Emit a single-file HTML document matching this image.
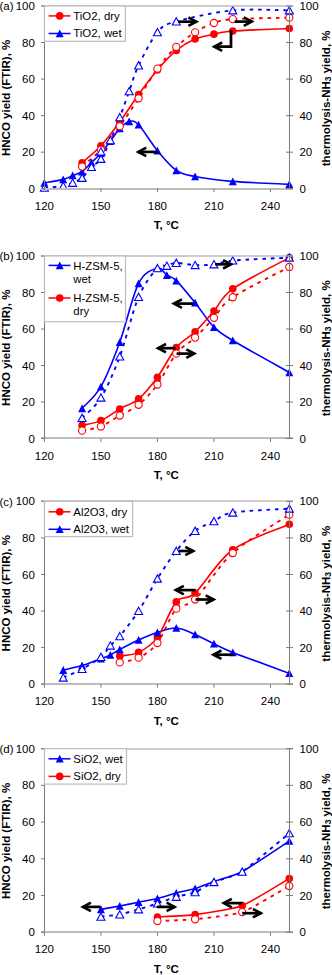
<!DOCTYPE html>
<html><head><meta charset="utf-8"><style>
html,body{margin:0;padding:0;background:#fff;}
body{width:332px;height:975px;overflow:hidden;}
svg{display:block;}
.t{font-family:"Liberation Sans",sans-serif;font-size:11.5px;fill:#000;}
.l{font-family:"Liberation Sans",sans-serif;font-size:11.4px;fill:#000;}
.b{font-family:"Liberation Sans",sans-serif;font-size:11.5px;font-weight:bold;fill:#000;}
</style></head><body>
<svg width="332" height="975" viewBox="0 0 332 975">
<rect width="332" height="975" fill="#fff"/>
<path d="M44.4,187.79 C47.54,187.48 58.53,186.78 63.24,185.96 C67.95,185.14 69.52,184.19 72.66,182.85 C75.8,181.51 78.94,180.57 82.08,177.92 C85.22,175.27 88.36,170.13 91.5,166.96 C94.64,163.79 97.78,163.37 100.92,158.92 C104.06,154.47 107.19,147.23 110.33,140.28 C113.47,133.34 116.61,125.42 119.75,117.26 C122.89,109.1 126.03,99.94 129.17,91.32 C132.31,82.7 133.88,75.4 138.59,65.56 C143.3,55.72 151.15,39.65 157.43,32.31 C163.71,24.97 163.71,25.18 176.27,21.53 C188.83,17.88 213.95,12.24 232.78,10.38 C251.62,8.53 279.88,10.38 289.3,10.38" fill="none" stroke="#0000ff" stroke-width="1.9" stroke-dasharray="3.6 4.8"/>
<path d="M82.08,166.59 C85.22,163.79 94.64,156.51 100.92,149.78 C107.19,143.06 113.47,134.8 119.75,126.22 C126.03,117.63 132.31,107.86 138.59,98.26 C144.87,88.67 151.15,77.22 157.43,68.67 C163.71,60.11 169.99,52.98 176.27,46.92 C182.55,40.87 188.83,36.3 195.11,32.31 C201.39,28.32 207.67,25.18 213.95,22.99 C220.23,20.8 220.23,20.04 232.78,19.15 C245.34,18.27 279.88,17.94 289.3,17.69" fill="none" stroke="#ff0000" stroke-width="1.9" stroke-dasharray="3.6 4.8"/>
<path d="M44.4,182.85 C47.54,182.28 58.53,180.6 63.24,179.38 C67.95,178.16 69.52,176.82 72.66,175.55 C75.8,174.27 78.94,173.9 82.08,171.71 C85.22,169.52 88.36,165.47 91.5,162.39 C94.64,159.32 97.78,156.79 100.92,153.26 C104.06,149.72 107.19,145.34 110.33,141.2 C113.47,137.06 116.61,131.7 119.75,128.41 C122.89,125.12 126.03,122.08 129.17,121.47 C132.31,120.86 133.88,119.88 138.59,124.75 C143.3,129.63 151.15,143.09 157.43,150.7 C163.71,158.31 169.99,166.14 176.27,170.43 C182.55,174.72 185.69,174.63 195.11,176.46 C204.53,178.29 217.09,180.08 232.78,181.39 C248.48,182.7 279.88,183.83 289.3,184.32" fill="none" stroke="#0000ff" stroke-width="1.6"/>
<path d="M82.08,162.76 C85.22,159.92 94.64,152.56 100.92,145.77 C107.19,138.98 113.47,130.57 119.75,122.01 C126.03,113.46 132.31,103.11 138.59,94.43 C144.87,85.75 151.15,77.28 157.43,69.94 C163.71,62.61 169.99,55.54 176.27,50.4 C182.55,45.25 188.83,41.78 195.11,39.07 C201.39,36.36 207.67,35.48 213.95,34.14 C220.23,32.8 220.23,31.97 232.78,31.03 C245.34,30.09 279.88,28.9 289.3,28.47" fill="none" stroke="#ff0000" stroke-width="1.6"/>
<circle cx="82.08" cy="162.76" r="3.8" fill="#ff0000"/>
<circle cx="100.92" cy="145.77" r="3.8" fill="#ff0000"/>
<circle cx="119.75" cy="122.01" r="3.8" fill="#ff0000"/>
<circle cx="138.59" cy="94.43" r="3.8" fill="#ff0000"/>
<circle cx="157.43" cy="69.94" r="3.8" fill="#ff0000"/>
<circle cx="176.27" cy="50.4" r="3.8" fill="#ff0000"/>
<circle cx="195.11" cy="39.07" r="3.8" fill="#ff0000"/>
<circle cx="213.95" cy="34.14" r="3.8" fill="#ff0000"/>
<circle cx="232.78" cy="31.03" r="3.8" fill="#ff0000"/>
<circle cx="289.3" cy="28.47" r="3.8" fill="#ff0000"/>
<polygon points="44.4,178.85 48.4,186.65 40.4,186.65" fill="#0000ff"/>
<polygon points="63.24,175.38 67.24,183.18 59.24,183.18" fill="#0000ff"/>
<polygon points="72.66,171.55 76.66,179.35 68.66,179.35" fill="#0000ff"/>
<polygon points="82.08,167.71 86.08,175.51 78.08,175.51" fill="#0000ff"/>
<polygon points="91.5,158.39 95.5,166.19 87.5,166.19" fill="#0000ff"/>
<polygon points="100.92,149.26 104.92,157.06 96.92,157.06" fill="#0000ff"/>
<polygon points="110.33,137.2 114.33,145 106.33,145" fill="#0000ff"/>
<polygon points="119.75,124.41 123.75,132.21 115.75,132.21" fill="#0000ff"/>
<polygon points="129.17,117.47 133.17,125.27 125.17,125.27" fill="#0000ff"/>
<polygon points="138.59,120.75 142.59,128.56 134.59,128.56" fill="#0000ff"/>
<polygon points="157.43,146.7 161.43,154.5 153.43,154.5" fill="#0000ff"/>
<polygon points="176.27,166.43 180.27,174.23 172.27,174.23" fill="#0000ff"/>
<polygon points="195.11,172.46 199.11,180.26 191.11,180.26" fill="#0000ff"/>
<polygon points="232.78,177.39 236.78,185.19 228.78,185.19" fill="#0000ff"/>
<polygon points="289.3,180.32 293.3,188.12 285.3,188.12" fill="#0000ff"/>
<circle cx="82.08" cy="166.59" r="3.6" fill="#fff" stroke="#ff0000" stroke-width="1.1"/>
<circle cx="100.92" cy="149.78" r="3.6" fill="#fff" stroke="#ff0000" stroke-width="1.1"/>
<circle cx="119.75" cy="126.22" r="3.6" fill="#fff" stroke="#ff0000" stroke-width="1.1"/>
<circle cx="138.59" cy="98.26" r="3.6" fill="#fff" stroke="#ff0000" stroke-width="1.1"/>
<circle cx="157.43" cy="68.67" r="3.6" fill="#fff" stroke="#ff0000" stroke-width="1.1"/>
<circle cx="176.27" cy="46.92" r="3.6" fill="#fff" stroke="#ff0000" stroke-width="1.1"/>
<circle cx="195.11" cy="32.31" r="3.6" fill="#fff" stroke="#ff0000" stroke-width="1.1"/>
<circle cx="213.95" cy="22.99" r="3.6" fill="#fff" stroke="#ff0000" stroke-width="1.1"/>
<circle cx="232.78" cy="19.15" r="3.6" fill="#fff" stroke="#ff0000" stroke-width="1.1"/>
<circle cx="289.3" cy="17.69" r="3.6" fill="#fff" stroke="#ff0000" stroke-width="1.1"/>
<polygon points="44.4,183.99 48.4,191.29 40.4,191.29" fill="#fff" stroke="#0000ff" stroke-width="1.1"/>
<polygon points="63.24,182.16 67.24,189.46 59.24,189.46" fill="#fff" stroke="#0000ff" stroke-width="1.1"/>
<polygon points="72.66,179.05 76.66,186.35 68.66,186.35" fill="#fff" stroke="#0000ff" stroke-width="1.1"/>
<polygon points="82.08,174.12 86.08,181.42 78.08,181.42" fill="#fff" stroke="#0000ff" stroke-width="1.1"/>
<polygon points="91.5,163.16 95.5,170.46 87.5,170.46" fill="#fff" stroke="#0000ff" stroke-width="1.1"/>
<polygon points="100.92,155.12 104.92,162.42 96.92,162.42" fill="#fff" stroke="#0000ff" stroke-width="1.1"/>
<polygon points="110.33,136.48 114.33,143.78 106.33,143.78" fill="#fff" stroke="#0000ff" stroke-width="1.1"/>
<polygon points="119.75,113.46 123.75,120.76 115.75,120.76" fill="#fff" stroke="#0000ff" stroke-width="1.1"/>
<polygon points="129.17,87.52 133.17,94.82 125.17,94.82" fill="#fff" stroke="#0000ff" stroke-width="1.1"/>
<polygon points="138.59,61.76 142.59,69.06 134.59,69.06" fill="#fff" stroke="#0000ff" stroke-width="1.1"/>
<polygon points="157.43,28.51 161.43,35.81 153.43,35.81" fill="#fff" stroke="#0000ff" stroke-width="1.1"/>
<polygon points="176.27,17.73 180.27,25.03 172.27,25.03" fill="#fff" stroke="#0000ff" stroke-width="1.1"/>
<polygon points="232.78,6.58 236.78,13.88 228.78,13.88" fill="#fff" stroke="#0000ff" stroke-width="1.1"/>
<polygon points="289.3,6.58 293.3,13.88 285.3,13.88" fill="#fff" stroke="#0000ff" stroke-width="1.1"/>
<polygon points="100.92,147.81 104.92,155.11 96.92,155.11" fill="#fff" stroke="#0000ff" stroke-width="1.1"/>
<line x1="41" y1="6" x2="293" y2="6" stroke="#bcbcbc" stroke-width="1.6"/>
<line x1="41" y1="189" x2="293" y2="189" stroke="#bcbcbc" stroke-width="1.8"/>
<line x1="44.5" y1="6" x2="44.5" y2="189" stroke="#7a7a7a" stroke-width="1"/>
<line x1="289.5" y1="6" x2="289.5" y2="189" stroke="#7a7a7a" stroke-width="1"/>
<line x1="41" y1="188.7" x2="44.5" y2="188.7" stroke="#7a7a7a" stroke-width="1"/>
<line x1="286" y1="188.7" x2="293" y2="188.7" stroke="#7a7a7a" stroke-width="1"/>
<text x="34.9" y="192.8" text-anchor="end" class="t">0</text>
<text x="299.4" y="192.8" class="t">0</text>
<line x1="41" y1="152.16" x2="44.5" y2="152.16" stroke="#7a7a7a" stroke-width="1"/>
<line x1="286" y1="152.16" x2="293" y2="152.16" stroke="#7a7a7a" stroke-width="1"/>
<text x="34.9" y="156.26" text-anchor="end" class="t">20</text>
<text x="299.4" y="156.26" class="t">20</text>
<line x1="41" y1="115.62" x2="44.5" y2="115.62" stroke="#7a7a7a" stroke-width="1"/>
<line x1="286" y1="115.62" x2="293" y2="115.62" stroke="#7a7a7a" stroke-width="1"/>
<text x="34.9" y="119.72" text-anchor="end" class="t">40</text>
<text x="299.4" y="119.72" class="t">40</text>
<line x1="41" y1="79.08" x2="44.5" y2="79.08" stroke="#7a7a7a" stroke-width="1"/>
<line x1="286" y1="79.08" x2="293" y2="79.08" stroke="#7a7a7a" stroke-width="1"/>
<text x="34.9" y="83.18" text-anchor="end" class="t">60</text>
<text x="299.4" y="83.18" class="t">60</text>
<line x1="41" y1="42.54" x2="44.5" y2="42.54" stroke="#7a7a7a" stroke-width="1"/>
<line x1="286" y1="42.54" x2="293" y2="42.54" stroke="#7a7a7a" stroke-width="1"/>
<text x="34.9" y="46.64" text-anchor="end" class="t">80</text>
<text x="299.4" y="46.64" class="t">80</text>
<line x1="41" y1="6" x2="44.5" y2="6" stroke="#7a7a7a" stroke-width="1"/>
<line x1="286" y1="6" x2="293" y2="6" stroke="#7a7a7a" stroke-width="1"/>
<text x="34.9" y="10.1" text-anchor="end" class="t">100</text>
<text x="299.4" y="10.1" class="t">100</text>
<line x1="44.4" y1="188.7" x2="44.4" y2="192.2" stroke="#7a7a7a" stroke-width="1"/>
<text x="44.4" y="209.7" text-anchor="middle" class="t">120</text>
<line x1="100.92" y1="188.7" x2="100.92" y2="192.2" stroke="#7a7a7a" stroke-width="1"/>
<text x="100.92" y="209.7" text-anchor="middle" class="t">150</text>
<line x1="157.43" y1="188.7" x2="157.43" y2="192.2" stroke="#7a7a7a" stroke-width="1"/>
<text x="157.43" y="209.7" text-anchor="middle" class="t">180</text>
<line x1="213.95" y1="188.7" x2="213.95" y2="192.2" stroke="#7a7a7a" stroke-width="1"/>
<text x="213.95" y="209.7" text-anchor="middle" class="t">210</text>
<line x1="270.46" y1="188.7" x2="270.46" y2="192.2" stroke="#7a7a7a" stroke-width="1"/>
<text x="270.46" y="209.7" text-anchor="middle" class="t">240</text>
<text x="166.3" y="229.2" text-anchor="middle" class="b">T, °C</text>
<text transform="translate(10.3,97.85) rotate(-90)" text-anchor="middle" class="b">HNCO yield (FTIR), %</text>
<text transform="translate(329.6,98.35) rotate(-90)" text-anchor="middle" class="b">thermolysis-NH<tspan font-size="8.5" dy="1">3</tspan><tspan dy="-1"> yield, %</tspan></text>
<text x="-0.5" y="10.2" class="t">(a)</text>
<path d="M158.7,151.9 L138.3,151.9" fill="none" stroke="#000" stroke-width="2.7"/><path d="M146.3,147.7 L138.3,151.9 L146.3,156.1" fill="none" stroke="#000" stroke-width="2.6" stroke-linejoin="miter" stroke-miterlimit="10"/>
<path d="M178.3,21.7 L196.4,21.7" fill="none" stroke="#000" stroke-width="2.7"/><path d="M188.4,25.9 L196.4,21.7 L188.4,17.5" fill="none" stroke="#000" stroke-width="2.6" stroke-linejoin="miter" stroke-miterlimit="10"/>
<path d="M234.6,21.6 L251.8,21.6" fill="none" stroke="#000" stroke-width="2.7"/><path d="M243.8,25.8 L251.8,21.6 L243.8,17.4" fill="none" stroke="#000" stroke-width="2.6" stroke-linejoin="miter" stroke-miterlimit="10"/>
<path d="M231,30 L231,46.7 L214.2,46.7" fill="none" stroke="#000" stroke-width="2.7"/><path d="M222.2,42.5 L214.2,46.7 L222.2,50.9" fill="none" stroke="#000" stroke-width="2.6" stroke-linejoin="miter" stroke-miterlimit="10"/>
<rect x="44.5" y="6" width="80.9" height="35.3" fill="#fff" stroke="#bcbcbc" stroke-width="1.2"/>
<line x1="48.6" y1="15.9" x2="70.5" y2="15.9" stroke="#ff0000" stroke-width="1.5"/>
<circle cx="59.7" cy="15.9" r="3.8" fill="#ff0000"/>
<text x="73.3" y="19.6" class="l">TiO2, dry</text>
<line x1="48.6" y1="33.5" x2="70.5" y2="33.5" stroke="#0000ff" stroke-width="1.5"/>
<polygon points="59.7,29.5 63.7,37.3 55.7,37.3" fill="#0000ff"/>
<text x="73.3" y="36.8" class="l">TiO2, wet</text>
<path d="M82.08,418.06 C85.22,414.65 94.64,407.87 100.92,397.62 C107.19,387.37 113.47,373.32 119.75,356.56 C126.03,339.8 132.31,311.78 138.59,297.06 C144.87,282.34 152.72,273.43 157.43,268.23 C162.14,263.03 163.71,266.74 166.85,265.86 C169.99,264.97 171.56,263.06 176.27,262.94 C180.98,262.81 188.83,264.88 195.11,265.12 C201.39,265.37 207.67,265.16 213.95,264.39 C220.23,263.63 220.23,261.69 232.78,260.56 C245.34,259.44 279.88,258.13 289.3,257.64" fill="none" stroke="#0000ff" stroke-width="1.9" stroke-dasharray="3.6 4.8"/>
<path d="M82.08,430.65 C85.22,429.95 94.64,428.98 100.92,426.45 C107.19,423.93 113.47,419.12 119.75,415.5 C126.03,411.89 132.31,409.91 138.59,404.74 C144.87,399.57 151.15,393 157.43,384.48 C163.71,375.96 169.99,361.45 176.27,353.64 C182.55,345.82 188.83,343.54 195.11,337.58 C201.39,331.62 207.67,324.59 213.95,317.87 C220.23,311.15 220.23,305.73 232.78,297.25 C245.34,288.76 279.88,272 289.3,266.95" fill="none" stroke="#ff0000" stroke-width="1.9" stroke-dasharray="3.6 4.8"/>
<path d="M82.08,408.39 C85.22,404.77 94.64,397.68 100.92,386.67 C107.19,375.66 113.47,359.54 119.75,342.32 C126.03,325.11 132.31,295.72 138.59,283.38 C144.87,271.03 152.72,269.6 157.43,268.23 C162.14,266.86 163.71,273.09 166.85,275.16 C169.99,277.23 171.56,276.04 176.27,280.64 C180.98,285.23 188.83,294.96 195.11,302.72 C201.39,310.48 207.67,320.88 213.95,327.18 C220.23,333.47 220.23,332.95 232.78,340.5 C245.34,348.04 279.88,367.11 289.3,372.44" fill="none" stroke="#0000ff" stroke-width="1.6"/>
<path d="M82.08,425.36 C85.22,424.57 94.64,423.35 100.92,420.62 C107.19,417.88 113.47,412.55 119.75,408.94 C126.03,405.32 132.31,404.19 138.59,398.9 C144.87,393.6 151.15,385.73 157.43,377.18 C163.71,368.63 169.99,355.16 176.27,347.62 C182.55,340.07 188.83,338 195.11,331.92 C201.39,325.84 207.67,318.29 213.95,311.12 C220.23,303.94 220.23,297.76 232.78,288.85 C245.34,279.94 279.88,262.84 289.3,257.64" fill="none" stroke="#ff0000" stroke-width="1.6"/>
<circle cx="82.08" cy="425.36" r="3.8" fill="#ff0000"/>
<circle cx="100.92" cy="420.62" r="3.8" fill="#ff0000"/>
<circle cx="119.75" cy="408.94" r="3.8" fill="#ff0000"/>
<circle cx="138.59" cy="398.9" r="3.8" fill="#ff0000"/>
<circle cx="157.43" cy="377.18" r="3.8" fill="#ff0000"/>
<circle cx="176.27" cy="347.62" r="3.8" fill="#ff0000"/>
<circle cx="195.11" cy="331.92" r="3.8" fill="#ff0000"/>
<circle cx="213.95" cy="311.12" r="3.8" fill="#ff0000"/>
<circle cx="232.78" cy="288.85" r="3.8" fill="#ff0000"/>
<circle cx="289.3" cy="257.64" r="3.8" fill="#ff0000"/>
<polygon points="82.08,404.39 86.08,412.19 78.08,412.19" fill="#0000ff"/>
<polygon points="100.92,382.67 104.92,390.47 96.92,390.47" fill="#0000ff"/>
<polygon points="119.75,338.32 123.75,346.12 115.75,346.12" fill="#0000ff"/>
<polygon points="138.59,279.38 142.59,287.18 134.59,287.18" fill="#0000ff"/>
<polygon points="157.43,264.23 161.43,272.03 153.43,272.03" fill="#0000ff"/>
<polygon points="166.85,271.16 170.85,278.96 162.85,278.96" fill="#0000ff"/>
<polygon points="176.27,276.64 180.27,284.44 172.27,284.44" fill="#0000ff"/>
<polygon points="195.11,298.72 199.11,306.52 191.11,306.52" fill="#0000ff"/>
<polygon points="213.95,323.18 217.95,330.98 209.95,330.98" fill="#0000ff"/>
<polygon points="232.78,336.5 236.78,344.3 228.78,344.3" fill="#0000ff"/>
<polygon points="289.3,368.44 293.3,376.24 285.3,376.24" fill="#0000ff"/>
<circle cx="82.08" cy="430.65" r="3.6" fill="#fff" stroke="#ff0000" stroke-width="1.1"/>
<circle cx="100.92" cy="426.45" r="3.6" fill="#fff" stroke="#ff0000" stroke-width="1.1"/>
<circle cx="119.75" cy="415.5" r="3.6" fill="#fff" stroke="#ff0000" stroke-width="1.1"/>
<circle cx="138.59" cy="404.74" r="3.6" fill="#fff" stroke="#ff0000" stroke-width="1.1"/>
<circle cx="157.43" cy="384.48" r="3.6" fill="#fff" stroke="#ff0000" stroke-width="1.1"/>
<circle cx="176.27" cy="353.64" r="3.6" fill="#fff" stroke="#ff0000" stroke-width="1.1"/>
<circle cx="195.11" cy="337.58" r="3.6" fill="#fff" stroke="#ff0000" stroke-width="1.1"/>
<circle cx="213.95" cy="317.87" r="3.6" fill="#fff" stroke="#ff0000" stroke-width="1.1"/>
<circle cx="232.78" cy="297.25" r="3.6" fill="#fff" stroke="#ff0000" stroke-width="1.1"/>
<circle cx="289.3" cy="266.95" r="3.6" fill="#fff" stroke="#ff0000" stroke-width="1.1"/>
<polygon points="82.08,414.26 86.08,421.56 78.08,421.56" fill="#fff" stroke="#0000ff" stroke-width="1.1"/>
<polygon points="100.92,393.82 104.92,401.12 96.92,401.12" fill="#fff" stroke="#0000ff" stroke-width="1.1"/>
<polygon points="119.75,352.76 123.75,360.06 115.75,360.06" fill="#fff" stroke="#0000ff" stroke-width="1.1"/>
<polygon points="138.59,293.26 142.59,300.56 134.59,300.56" fill="#fff" stroke="#0000ff" stroke-width="1.1"/>
<polygon points="157.43,264.43 161.43,271.73 153.43,271.73" fill="#fff" stroke="#0000ff" stroke-width="1.1"/>
<polygon points="166.85,262.06 170.85,269.36 162.85,269.36" fill="#fff" stroke="#0000ff" stroke-width="1.1"/>
<polygon points="176.27,259.13 180.27,266.44 172.27,266.44" fill="#fff" stroke="#0000ff" stroke-width="1.1"/>
<polygon points="195.11,261.32 199.11,268.62 191.11,268.62" fill="#fff" stroke="#0000ff" stroke-width="1.1"/>
<polygon points="213.95,260.59 217.95,267.89 209.95,267.89" fill="#fff" stroke="#0000ff" stroke-width="1.1"/>
<polygon points="232.78,256.76 236.78,264.06 228.78,264.06" fill="#fff" stroke="#0000ff" stroke-width="1.1"/>
<polygon points="289.3,253.84 293.3,261.14 285.3,261.14" fill="#fff" stroke="#0000ff" stroke-width="1.1"/>
<line x1="41" y1="256" x2="293" y2="256" stroke="#bcbcbc" stroke-width="1.6"/>
<line x1="41" y1="438" x2="293" y2="438" stroke="#bcbcbc" stroke-width="1.8"/>
<line x1="44.5" y1="256" x2="44.5" y2="438" stroke="#7a7a7a" stroke-width="1"/>
<line x1="289.5" y1="256" x2="289.5" y2="438" stroke="#7a7a7a" stroke-width="1"/>
<line x1="41" y1="438.5" x2="44.5" y2="438.5" stroke="#7a7a7a" stroke-width="1"/>
<line x1="286" y1="438.5" x2="293" y2="438.5" stroke="#7a7a7a" stroke-width="1"/>
<text x="34.9" y="442.6" text-anchor="end" class="t">0</text>
<text x="299.4" y="442.6" class="t">0</text>
<line x1="41" y1="402" x2="44.5" y2="402" stroke="#7a7a7a" stroke-width="1"/>
<line x1="286" y1="402" x2="293" y2="402" stroke="#7a7a7a" stroke-width="1"/>
<text x="34.9" y="406.1" text-anchor="end" class="t">20</text>
<text x="299.4" y="406.1" class="t">20</text>
<line x1="41" y1="365.5" x2="44.5" y2="365.5" stroke="#7a7a7a" stroke-width="1"/>
<line x1="286" y1="365.5" x2="293" y2="365.5" stroke="#7a7a7a" stroke-width="1"/>
<text x="34.9" y="369.6" text-anchor="end" class="t">40</text>
<text x="299.4" y="369.6" class="t">40</text>
<line x1="41" y1="329" x2="44.5" y2="329" stroke="#7a7a7a" stroke-width="1"/>
<line x1="286" y1="329" x2="293" y2="329" stroke="#7a7a7a" stroke-width="1"/>
<text x="34.9" y="333.1" text-anchor="end" class="t">60</text>
<text x="299.4" y="333.1" class="t">60</text>
<line x1="41" y1="292.5" x2="44.5" y2="292.5" stroke="#7a7a7a" stroke-width="1"/>
<line x1="286" y1="292.5" x2="293" y2="292.5" stroke="#7a7a7a" stroke-width="1"/>
<text x="34.9" y="296.6" text-anchor="end" class="t">80</text>
<text x="299.4" y="296.6" class="t">80</text>
<line x1="41" y1="256" x2="44.5" y2="256" stroke="#7a7a7a" stroke-width="1"/>
<line x1="286" y1="256" x2="293" y2="256" stroke="#7a7a7a" stroke-width="1"/>
<text x="34.9" y="260.1" text-anchor="end" class="t">100</text>
<text x="299.4" y="260.1" class="t">100</text>
<line x1="44.4" y1="438.5" x2="44.4" y2="442" stroke="#7a7a7a" stroke-width="1"/>
<text x="44.4" y="459.5" text-anchor="middle" class="t">120</text>
<line x1="100.92" y1="438.5" x2="100.92" y2="442" stroke="#7a7a7a" stroke-width="1"/>
<text x="100.92" y="459.5" text-anchor="middle" class="t">150</text>
<line x1="157.43" y1="438.5" x2="157.43" y2="442" stroke="#7a7a7a" stroke-width="1"/>
<text x="157.43" y="459.5" text-anchor="middle" class="t">180</text>
<line x1="213.95" y1="438.5" x2="213.95" y2="442" stroke="#7a7a7a" stroke-width="1"/>
<text x="213.95" y="459.5" text-anchor="middle" class="t">210</text>
<line x1="270.46" y1="438.5" x2="270.46" y2="442" stroke="#7a7a7a" stroke-width="1"/>
<text x="270.46" y="459.5" text-anchor="middle" class="t">240</text>
<text x="166.3" y="479" text-anchor="middle" class="b">T, °C</text>
<text transform="translate(10.3,347.75) rotate(-90)" text-anchor="middle" class="b">HNCO yield (FTIR), %</text>
<text transform="translate(329.6,348.25) rotate(-90)" text-anchor="middle" class="b">thermolysis-NH<tspan font-size="8.5" dy="1">3</tspan><tspan dy="-1"> yield, %</tspan></text>
<text x="-0.5" y="260.2" class="t">(b)</text>
<path d="M193.8,303.6 L173.9,303.6" fill="none" stroke="#000" stroke-width="2.7"/><path d="M181.9,299.4 L173.9,303.6 L181.9,307.8" fill="none" stroke="#000" stroke-width="2.6" stroke-linejoin="miter" stroke-miterlimit="10"/>
<path d="M175.7,348.2 L158,348.2" fill="none" stroke="#000" stroke-width="2.7"/><path d="M166,344 L158,348.2 L166,352.4" fill="none" stroke="#000" stroke-width="2.6" stroke-linejoin="miter" stroke-miterlimit="10"/>
<path d="M176.6,353.6 L194.3,353.6" fill="none" stroke="#000" stroke-width="2.7"/><path d="M186.3,357.8 L194.3,353.6 L186.3,349.4" fill="none" stroke="#000" stroke-width="2.6" stroke-linejoin="miter" stroke-miterlimit="10"/>
<path d="M215.2,264.3 L231.1,264.3" fill="none" stroke="#000" stroke-width="2.7"/><path d="M223.1,268.5 L231.1,264.3 L223.1,260.1" fill="none" stroke="#000" stroke-width="2.6" stroke-linejoin="miter" stroke-miterlimit="10"/>
<rect x="44.5" y="256" width="81" height="65.8" fill="#fff" stroke="#bcbcbc" stroke-width="1.2"/>
<line x1="48.6" y1="265.4" x2="70.5" y2="265.4" stroke="#0000ff" stroke-width="1.5"/>
<polygon points="59.7,261.4 63.7,269.2 55.7,269.2" fill="#0000ff"/>
<text x="73.3" y="269.8" class="l">H-ZSM-5,</text>
<text x="73.3" y="283.1" class="l">wet</text>
<line x1="48.6" y1="298" x2="70.5" y2="298" stroke="#ff0000" stroke-width="1.5"/>
<circle cx="59.7" cy="298" r="3.8" fill="#ff0000"/>
<text x="73.3" y="302" class="l">H-ZSM-5,</text>
<text x="73.3" y="315.2" class="l">dry</text>
<path d="M63.24,677.62 C66.38,676.18 75.8,672.46 82.08,669.02 C88.36,665.57 96.21,660.85 100.92,656.95 C105.63,653.05 107.19,649.05 110.33,645.61 C113.47,642.16 115.04,642.04 119.75,636.28 C124.46,630.52 132.31,620.64 138.59,611.04 C144.87,601.44 151.15,588.67 157.43,578.67 C163.71,568.67 169.99,559 176.27,551.05 C182.55,543.09 188.83,535.9 195.11,530.93 C201.39,525.96 207.67,524.28 213.95,521.24 C220.23,518.19 220.23,514.74 232.78,512.64 C245.34,510.54 279.88,509.29 289.3,508.62" fill="none" stroke="#0000ff" stroke-width="1.9" stroke-dasharray="3.6 4.8"/>
<path d="M119.75,662.43 C122.89,661.64 132.31,660.91 138.59,657.68 C144.87,654.45 151.15,651.22 157.43,643.05 C163.71,634.88 169.99,615.92 176.27,608.66 C182.55,601.41 185.69,608.78 195.11,599.52 C204.53,590.25 217.09,567.2 232.78,553.06 C248.48,538.92 279.88,521.05 289.3,514.65" fill="none" stroke="#ff0000" stroke-width="1.9" stroke-dasharray="3.6 4.8"/>
<path d="M63.24,670.12 C66.38,669.35 75.8,667.43 82.08,665.54 C88.36,663.65 96.21,660.54 100.92,658.78 C105.63,657.01 107.19,656.49 110.33,654.94 C113.47,653.38 115.04,651.95 119.75,649.45 C124.46,646.95 132.31,642.77 138.59,639.94 C144.87,637.1 151.15,634.42 157.43,632.44 C163.71,630.46 169.99,627.71 176.27,628.05 C182.55,628.39 188.83,631.83 195.11,634.45 C201.39,637.07 207.67,640.79 213.95,643.78 C220.23,646.77 220.23,647.47 232.78,652.38 C245.34,657.28 279.88,669.75 289.3,673.23" fill="none" stroke="#0000ff" stroke-width="1.6"/>
<path d="M119.75,656.03 C122.89,655.42 132.31,655.48 138.59,652.38 C144.87,649.27 151.15,645.79 157.43,637.38 C163.71,628.96 169.99,609.3 176.27,601.89 C182.55,594.49 185.69,601.62 195.11,592.93 C204.53,584.25 217.09,561.2 232.78,549.77 C248.48,538.34 279.88,528.58 289.3,524.35" fill="none" stroke="#ff0000" stroke-width="1.6"/>
<circle cx="119.75" cy="656.03" r="3.8" fill="#ff0000"/>
<circle cx="138.59" cy="652.38" r="3.8" fill="#ff0000"/>
<circle cx="157.43" cy="637.38" r="3.8" fill="#ff0000"/>
<circle cx="176.27" cy="601.89" r="3.8" fill="#ff0000"/>
<circle cx="195.11" cy="592.93" r="3.8" fill="#ff0000"/>
<circle cx="232.78" cy="549.77" r="3.8" fill="#ff0000"/>
<circle cx="289.3" cy="524.35" r="3.8" fill="#ff0000"/>
<polygon points="63.24,666.12 67.24,673.92 59.24,673.92" fill="#0000ff"/>
<polygon points="82.08,661.54 86.08,669.34 78.08,669.34" fill="#0000ff"/>
<polygon points="100.92,654.78 104.92,662.58 96.92,662.58" fill="#0000ff"/>
<polygon points="110.33,650.94 114.33,658.74 106.33,658.74" fill="#0000ff"/>
<polygon points="119.75,645.45 123.75,653.25 115.75,653.25" fill="#0000ff"/>
<polygon points="138.59,635.94 142.59,643.74 134.59,643.74" fill="#0000ff"/>
<polygon points="157.43,628.44 161.43,636.24 153.43,636.24" fill="#0000ff"/>
<polygon points="176.27,624.05 180.27,631.85 172.27,631.85" fill="#0000ff"/>
<polygon points="195.11,630.45 199.11,638.25 191.11,638.25" fill="#0000ff"/>
<polygon points="213.95,639.78 217.95,647.58 209.95,647.58" fill="#0000ff"/>
<polygon points="232.78,648.38 236.78,656.18 228.78,656.18" fill="#0000ff"/>
<polygon points="289.3,669.23 293.3,677.03 285.3,677.03" fill="#0000ff"/>
<circle cx="119.75" cy="662.43" r="3.6" fill="#fff" stroke="#ff0000" stroke-width="1.1"/>
<circle cx="138.59" cy="657.68" r="3.6" fill="#fff" stroke="#ff0000" stroke-width="1.1"/>
<circle cx="157.43" cy="643.05" r="3.6" fill="#fff" stroke="#ff0000" stroke-width="1.1"/>
<circle cx="176.27" cy="608.66" r="3.6" fill="#fff" stroke="#ff0000" stroke-width="1.1"/>
<circle cx="195.11" cy="599.52" r="3.6" fill="#fff" stroke="#ff0000" stroke-width="1.1"/>
<circle cx="232.78" cy="553.06" r="3.6" fill="#fff" stroke="#ff0000" stroke-width="1.1"/>
<circle cx="289.3" cy="514.65" r="3.6" fill="#fff" stroke="#ff0000" stroke-width="1.1"/>
<polygon points="63.24,673.82 67.24,681.12 59.24,681.12" fill="#fff" stroke="#0000ff" stroke-width="1.1"/>
<polygon points="82.08,665.22 86.08,672.52 78.08,672.52" fill="#fff" stroke="#0000ff" stroke-width="1.1"/>
<polygon points="100.92,653.15 104.92,660.45 96.92,660.45" fill="#fff" stroke="#0000ff" stroke-width="1.1"/>
<polygon points="110.33,641.81 114.33,649.11 106.33,649.11" fill="#fff" stroke="#0000ff" stroke-width="1.1"/>
<polygon points="119.75,632.48 123.75,639.78 115.75,639.78" fill="#fff" stroke="#0000ff" stroke-width="1.1"/>
<polygon points="138.59,607.24 142.59,614.54 134.59,614.54" fill="#fff" stroke="#0000ff" stroke-width="1.1"/>
<polygon points="157.43,574.87 161.43,582.17 153.43,582.17" fill="#fff" stroke="#0000ff" stroke-width="1.1"/>
<polygon points="176.27,547.25 180.27,554.55 172.27,554.55" fill="#fff" stroke="#0000ff" stroke-width="1.1"/>
<polygon points="195.11,527.13 199.11,534.43 191.11,534.43" fill="#fff" stroke="#0000ff" stroke-width="1.1"/>
<polygon points="213.95,517.44 217.95,524.74 209.95,524.74" fill="#fff" stroke="#0000ff" stroke-width="1.1"/>
<polygon points="232.78,508.84 236.78,516.14 228.78,516.14" fill="#fff" stroke="#0000ff" stroke-width="1.1"/>
<polygon points="289.3,504.82 293.3,512.12 285.3,512.12" fill="#fff" stroke="#0000ff" stroke-width="1.1"/>
<line x1="41" y1="501" x2="293" y2="501" stroke="#bcbcbc" stroke-width="1.6"/>
<line x1="41" y1="684" x2="293" y2="684" stroke="#bcbcbc" stroke-width="1.8"/>
<line x1="44.5" y1="501" x2="44.5" y2="684" stroke="#7a7a7a" stroke-width="1"/>
<line x1="289.5" y1="501" x2="289.5" y2="684" stroke="#7a7a7a" stroke-width="1"/>
<line x1="41" y1="684.2" x2="44.5" y2="684.2" stroke="#7a7a7a" stroke-width="1"/>
<line x1="286" y1="684.2" x2="293" y2="684.2" stroke="#7a7a7a" stroke-width="1"/>
<text x="34.9" y="688.3" text-anchor="end" class="t">0</text>
<text x="299.4" y="688.3" class="t">0</text>
<line x1="41" y1="647.62" x2="44.5" y2="647.62" stroke="#7a7a7a" stroke-width="1"/>
<line x1="286" y1="647.62" x2="293" y2="647.62" stroke="#7a7a7a" stroke-width="1"/>
<text x="34.9" y="651.72" text-anchor="end" class="t">20</text>
<text x="299.4" y="651.72" class="t">20</text>
<line x1="41" y1="611.04" x2="44.5" y2="611.04" stroke="#7a7a7a" stroke-width="1"/>
<line x1="286" y1="611.04" x2="293" y2="611.04" stroke="#7a7a7a" stroke-width="1"/>
<text x="34.9" y="615.14" text-anchor="end" class="t">40</text>
<text x="299.4" y="615.14" class="t">40</text>
<line x1="41" y1="574.46" x2="44.5" y2="574.46" stroke="#7a7a7a" stroke-width="1"/>
<line x1="286" y1="574.46" x2="293" y2="574.46" stroke="#7a7a7a" stroke-width="1"/>
<text x="34.9" y="578.56" text-anchor="end" class="t">60</text>
<text x="299.4" y="578.56" class="t">60</text>
<line x1="41" y1="537.88" x2="44.5" y2="537.88" stroke="#7a7a7a" stroke-width="1"/>
<line x1="286" y1="537.88" x2="293" y2="537.88" stroke="#7a7a7a" stroke-width="1"/>
<text x="34.9" y="541.98" text-anchor="end" class="t">80</text>
<text x="299.4" y="541.98" class="t">80</text>
<line x1="41" y1="501.3" x2="44.5" y2="501.3" stroke="#7a7a7a" stroke-width="1"/>
<line x1="286" y1="501.3" x2="293" y2="501.3" stroke="#7a7a7a" stroke-width="1"/>
<text x="34.9" y="505.4" text-anchor="end" class="t">100</text>
<text x="299.4" y="505.4" class="t">100</text>
<line x1="44.4" y1="684.2" x2="44.4" y2="687.7" stroke="#7a7a7a" stroke-width="1"/>
<text x="44.4" y="705.2" text-anchor="middle" class="t">120</text>
<line x1="100.92" y1="684.2" x2="100.92" y2="687.7" stroke="#7a7a7a" stroke-width="1"/>
<text x="100.92" y="705.2" text-anchor="middle" class="t">150</text>
<line x1="157.43" y1="684.2" x2="157.43" y2="687.7" stroke="#7a7a7a" stroke-width="1"/>
<text x="157.43" y="705.2" text-anchor="middle" class="t">180</text>
<line x1="213.95" y1="684.2" x2="213.95" y2="687.7" stroke="#7a7a7a" stroke-width="1"/>
<text x="213.95" y="705.2" text-anchor="middle" class="t">210</text>
<line x1="270.46" y1="684.2" x2="270.46" y2="687.7" stroke="#7a7a7a" stroke-width="1"/>
<text x="270.46" y="705.2" text-anchor="middle" class="t">240</text>
<text x="166.3" y="724.7" text-anchor="middle" class="b">T, °C</text>
<text transform="translate(10.3,593.25) rotate(-90)" text-anchor="middle" class="b">HNCO yield (FTIR), %</text>
<text transform="translate(329.6,593.75) rotate(-90)" text-anchor="middle" class="b">thermolysis-NH<tspan font-size="8.5" dy="1">3</tspan><tspan dy="-1"> yield, %</tspan></text>
<text x="-0.5" y="505.5" class="t">(c)</text>
<path d="M178.7,551 L193.3,551" fill="none" stroke="#000" stroke-width="2.7"/><path d="M185.3,555.2 L193.3,551 L185.3,546.8" fill="none" stroke="#000" stroke-width="2.6" stroke-linejoin="miter" stroke-miterlimit="10"/>
<path d="M195.5,590.1 L175.8,590.1" fill="none" stroke="#000" stroke-width="2.7"/><path d="M183.8,585.9 L175.8,590.1 L183.8,594.3" fill="none" stroke="#000" stroke-width="2.6" stroke-linejoin="miter" stroke-miterlimit="10"/>
<path d="M195.5,599.5 L213.7,599.5" fill="none" stroke="#000" stroke-width="2.7"/><path d="M205.7,603.7 L213.7,599.5 L205.7,595.3" fill="none" stroke="#000" stroke-width="2.6" stroke-linejoin="miter" stroke-miterlimit="10"/>
<path d="M233.5,654.7 L213.4,654.7" fill="none" stroke="#000" stroke-width="2.7"/><path d="M221.4,650.5 L213.4,654.7 L221.4,658.9" fill="none" stroke="#000" stroke-width="2.6" stroke-linejoin="miter" stroke-miterlimit="10"/>
<rect x="44.5" y="501.3" width="88.1" height="35.3" fill="#fff" stroke="#bcbcbc" stroke-width="1.2"/>
<line x1="48.6" y1="511.8" x2="70.5" y2="511.8" stroke="#ff0000" stroke-width="1.5"/>
<circle cx="59.7" cy="511.8" r="3.8" fill="#ff0000"/>
<text x="73.3" y="515.5" class="l">Al2O3, dry</text>
<line x1="48.6" y1="529.3" x2="70.5" y2="529.3" stroke="#0000ff" stroke-width="1.5"/>
<polygon points="59.7,525.3 63.7,533.1 55.7,533.1" fill="#0000ff"/>
<text x="73.3" y="533" class="l">Al2O3, wet</text>
<path d="M100.92,916.69 C102.61,916.49 116.36,915.14 119.75,914.48 C123.14,913.82 135.2,910.33 138.59,909.34 C141.98,908.35 154.04,904.58 157.43,903.46 C160.82,902.33 172.88,897.85 176.27,896.85 C179.66,895.84 191.72,893.58 195.11,892.25 C198.5,890.93 209.71,884 213.95,882.15 C218.18,880.3 235.42,876.08 242.2,871.68 C248.99,867.28 285.06,836.74 289.3,833.29" fill="none" stroke="#0000ff" stroke-width="1.9" stroke-dasharray="3.6 4.8"/>
<path d="M157.43,921.09 C160.82,920.93 187.48,920.07 195.11,919.26 C202.74,918.45 233.73,915.09 242.2,912.09 C250.68,909.1 285.06,888.36 289.3,886.01" fill="none" stroke="#ff0000" stroke-width="1.9" stroke-dasharray="3.6 4.8"/>
<path d="M100.92,909.34 C102.61,909.04 116.36,906.68 119.75,906.03 C123.14,905.39 135.2,902.85 138.59,902.17 C141.98,901.5 154.04,899.33 157.43,898.5 C160.82,897.67 172.88,893.88 176.27,892.99 C179.66,892.1 191.72,889.62 195.11,888.58 C198.5,887.54 209.71,882.94 213.95,881.42 C218.18,879.89 235.42,875.32 242.2,871.68 C248.99,868.04 285.06,843.76 289.3,841" fill="none" stroke="#0000ff" stroke-width="1.6"/>
<path d="M157.43,917.05 C160.82,916.84 187.48,915.69 195.11,914.66 C202.74,913.64 233.73,908.92 242.2,905.66 C250.68,902.41 285.06,880.92 289.3,878.48" fill="none" stroke="#ff0000" stroke-width="1.6"/>
<circle cx="157.43" cy="917.05" r="3.8" fill="#ff0000"/>
<circle cx="195.11" cy="914.66" r="3.8" fill="#ff0000"/>
<circle cx="242.2" cy="905.66" r="3.8" fill="#ff0000"/>
<circle cx="289.3" cy="878.48" r="3.8" fill="#ff0000"/>
<polygon points="100.92,905.34 104.92,913.14 96.92,913.14" fill="#0000ff"/>
<polygon points="119.75,902.03 123.75,909.83 115.75,909.83" fill="#0000ff"/>
<polygon points="138.59,898.17 142.59,905.97 134.59,905.97" fill="#0000ff"/>
<polygon points="157.43,894.5 161.43,902.3 153.43,902.3" fill="#0000ff"/>
<polygon points="176.27,888.99 180.27,896.79 172.27,896.79" fill="#0000ff"/>
<polygon points="195.11,884.58 199.11,892.38 191.11,892.38" fill="#0000ff"/>
<polygon points="213.95,877.42 217.95,885.22 209.95,885.22" fill="#0000ff"/>
<polygon points="242.2,867.68 246.2,875.48 238.2,875.48" fill="#0000ff"/>
<polygon points="289.3,837 293.3,844.8 285.3,844.8" fill="#0000ff"/>
<circle cx="157.43" cy="921.09" r="3.6" fill="#fff" stroke="#ff0000" stroke-width="1.1"/>
<circle cx="195.11" cy="919.26" r="3.6" fill="#fff" stroke="#ff0000" stroke-width="1.1"/>
<circle cx="242.2" cy="912.09" r="3.6" fill="#fff" stroke="#ff0000" stroke-width="1.1"/>
<circle cx="289.3" cy="886.01" r="3.6" fill="#fff" stroke="#ff0000" stroke-width="1.1"/>
<polygon points="100.92,912.89 104.92,920.19 96.92,920.19" fill="#fff" stroke="#0000ff" stroke-width="1.1"/>
<polygon points="119.75,910.68 123.75,917.98 115.75,917.98" fill="#fff" stroke="#0000ff" stroke-width="1.1"/>
<polygon points="138.59,905.54 142.59,912.84 134.59,912.84" fill="#fff" stroke="#0000ff" stroke-width="1.1"/>
<polygon points="157.43,899.66 161.43,906.96 153.43,906.96" fill="#fff" stroke="#0000ff" stroke-width="1.1"/>
<polygon points="176.27,893.05 180.27,900.35 172.27,900.35" fill="#fff" stroke="#0000ff" stroke-width="1.1"/>
<polygon points="195.11,888.45 199.11,895.75 191.11,895.75" fill="#fff" stroke="#0000ff" stroke-width="1.1"/>
<polygon points="213.95,878.35 217.95,885.65 209.95,885.65" fill="#fff" stroke="#0000ff" stroke-width="1.1"/>
<polygon points="242.2,867.88 246.2,875.18 238.2,875.18" fill="#fff" stroke="#0000ff" stroke-width="1.1"/>
<polygon points="289.3,829.49 293.3,836.79 285.3,836.79" fill="#fff" stroke="#0000ff" stroke-width="1.1"/>
<line x1="41" y1="749" x2="293" y2="749" stroke="#bcbcbc" stroke-width="1.6"/>
<line x1="41" y1="932" x2="293" y2="932" stroke="#bcbcbc" stroke-width="1.8"/>
<line x1="44.5" y1="749" x2="44.5" y2="932" stroke="#7a7a7a" stroke-width="1"/>
<line x1="289.5" y1="749" x2="289.5" y2="932" stroke="#7a7a7a" stroke-width="1"/>
<line x1="41" y1="932.3" x2="44.5" y2="932.3" stroke="#7a7a7a" stroke-width="1"/>
<line x1="286" y1="932.3" x2="293" y2="932.3" stroke="#7a7a7a" stroke-width="1"/>
<text x="34.9" y="936.4" text-anchor="end" class="t">0</text>
<text x="299.4" y="936.4" class="t">0</text>
<line x1="41" y1="895.56" x2="44.5" y2="895.56" stroke="#7a7a7a" stroke-width="1"/>
<line x1="286" y1="895.56" x2="293" y2="895.56" stroke="#7a7a7a" stroke-width="1"/>
<text x="34.9" y="899.66" text-anchor="end" class="t">20</text>
<text x="299.4" y="899.66" class="t">20</text>
<line x1="41" y1="858.82" x2="44.5" y2="858.82" stroke="#7a7a7a" stroke-width="1"/>
<line x1="286" y1="858.82" x2="293" y2="858.82" stroke="#7a7a7a" stroke-width="1"/>
<text x="34.9" y="862.92" text-anchor="end" class="t">40</text>
<text x="299.4" y="862.92" class="t">40</text>
<line x1="41" y1="822.08" x2="44.5" y2="822.08" stroke="#7a7a7a" stroke-width="1"/>
<line x1="286" y1="822.08" x2="293" y2="822.08" stroke="#7a7a7a" stroke-width="1"/>
<text x="34.9" y="826.18" text-anchor="end" class="t">60</text>
<text x="299.4" y="826.18" class="t">60</text>
<line x1="41" y1="785.34" x2="44.5" y2="785.34" stroke="#7a7a7a" stroke-width="1"/>
<line x1="286" y1="785.34" x2="293" y2="785.34" stroke="#7a7a7a" stroke-width="1"/>
<text x="34.9" y="789.44" text-anchor="end" class="t">80</text>
<text x="299.4" y="789.44" class="t">80</text>
<line x1="41" y1="748.6" x2="44.5" y2="748.6" stroke="#7a7a7a" stroke-width="1"/>
<line x1="286" y1="748.6" x2="293" y2="748.6" stroke="#7a7a7a" stroke-width="1"/>
<text x="34.9" y="752.7" text-anchor="end" class="t">100</text>
<text x="299.4" y="752.7" class="t">100</text>
<line x1="44.4" y1="932.3" x2="44.4" y2="935.8" stroke="#7a7a7a" stroke-width="1"/>
<text x="44.4" y="953.3" text-anchor="middle" class="t">120</text>
<line x1="100.92" y1="932.3" x2="100.92" y2="935.8" stroke="#7a7a7a" stroke-width="1"/>
<text x="100.92" y="953.3" text-anchor="middle" class="t">150</text>
<line x1="157.43" y1="932.3" x2="157.43" y2="935.8" stroke="#7a7a7a" stroke-width="1"/>
<text x="157.43" y="953.3" text-anchor="middle" class="t">180</text>
<line x1="213.95" y1="932.3" x2="213.95" y2="935.8" stroke="#7a7a7a" stroke-width="1"/>
<text x="213.95" y="953.3" text-anchor="middle" class="t">210</text>
<line x1="270.46" y1="932.3" x2="270.46" y2="935.8" stroke="#7a7a7a" stroke-width="1"/>
<text x="270.46" y="953.3" text-anchor="middle" class="t">240</text>
<text x="166.3" y="972.8" text-anchor="middle" class="b">T, °C</text>
<text transform="translate(10.3,840.95) rotate(-90)" text-anchor="middle" class="b">HNCO yield (FTIR), %</text>
<text transform="translate(329.6,841.45) rotate(-90)" text-anchor="middle" class="b">thermolysis-NH<tspan font-size="8.5" dy="1">3</tspan><tspan dy="-1"> yield, %</tspan></text>
<text x="-0.5" y="752.8" class="t">(d)</text>
<path d="M100.5,906.9 L82.9,906.9" fill="none" stroke="#000" stroke-width="2.7"/><path d="M90.9,902.7 L82.9,906.9 L90.9,911.1" fill="none" stroke="#000" stroke-width="2.6" stroke-linejoin="miter" stroke-miterlimit="10"/>
<path d="M156.9,906.9 L174.6,906.9" fill="none" stroke="#000" stroke-width="2.7"/><path d="M166.6,911.1 L174.6,906.9 L166.6,902.7" fill="none" stroke="#000" stroke-width="2.6" stroke-linejoin="miter" stroke-miterlimit="10"/>
<path d="M242.2,903.1 L223.8,903.1" fill="none" stroke="#000" stroke-width="2.7"/><path d="M231.8,898.9 L223.8,903.1 L231.8,907.3" fill="none" stroke="#000" stroke-width="2.6" stroke-linejoin="miter" stroke-miterlimit="10"/>
<path d="M242.2,913.2 L260.9,913.2" fill="none" stroke="#000" stroke-width="2.7"/><path d="M252.9,917.4 L260.9,913.2 L252.9,909" fill="none" stroke="#000" stroke-width="2.6" stroke-linejoin="miter" stroke-miterlimit="10"/>
<rect x="44.5" y="748.6" width="82" height="35.5" fill="#fff" stroke="#bcbcbc" stroke-width="1.2"/>
<line x1="48.6" y1="758.8" x2="70.5" y2="758.8" stroke="#0000ff" stroke-width="1.5"/>
<polygon points="59.7,754.8 63.7,762.6 55.7,762.6" fill="#0000ff"/>
<text x="73.3" y="762.6" class="l">SiO2, wet</text>
<line x1="48.6" y1="776.4" x2="70.5" y2="776.4" stroke="#ff0000" stroke-width="1.5"/>
<circle cx="59.7" cy="776.4" r="3.8" fill="#ff0000"/>
<text x="73.3" y="780.2" class="l">SiO2, dry</text>
</svg></body></html>
